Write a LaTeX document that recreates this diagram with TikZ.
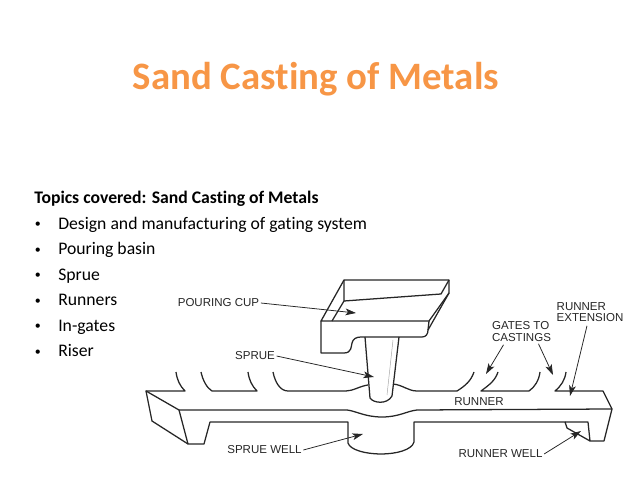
\documentclass[tikz,border=0pt]{standalone}
\usepackage{fontspec}
\setmainfont[Ligatures=NoCommon]{Carlito}
\newfontfamily\labelfont{Liberation Sans}
\usetikzlibrary{arrows.meta}
\definecolor{titleorange}{HTML}{F79646}
\definecolor{inkgray}{HTML}{262626}

\begin{document}
\begin{tikzpicture}[
    x=0.025cm, y=-0.025cm,
    >={Stealth[length=7.5pt, width=4.8pt, inset=1.8pt]},
    part/.style={draw=inkgray, line width=0.9pt, line join=round},
    thin part/.style={draw=gray!70, line width=0.35pt},
    tag/.style={font=\fontsize{8.2}{7.9}\selectfont\labelfont, text=inkgray,
                inner sep=1pt, align=left},
    arrowline/.style={->, draw=inkgray, line width=0.55pt},
    topic/.style={font=\fontsize{12.57}{14}\selectfont, text=black,
                  inner sep=0pt, anchor=base west}
  ]
  \useasboundingbox (0, 0) rectangle (638, 478);

  % Title
  \node[font=\fontsize{27.6}{30}\selectfont\bfseries, text=titleorange] (title)
    at (316, 79) {Sand Casting of Metals};

  % Topic list
  \node[topic, font=\fontsize{12.57}{14}\selectfont\bfseries] (topics) at (34, 204)
    {Topics covered: Sand Casting of Metals};
  \foreach \i/\y/\t in {
    1/229.5/Design and manufacturing of gating system,
    2/255/Pouring basin,
    3/280.5/Sprue,
    4/306/Runners,
    5/331.5/In-gates,
    6/357/Riser} {
    \node[topic, font=\fontsize{8.5}{10}\selectfont] (dot\i) at (34.5, \y-1.5) {\textbullet};
    \node[topic] (item\i) at (58, \y) {\t};
  }

  % Pouring cup
  \draw[part] (344, 280) -- (449, 280) -- (449, 293) -- (429, 321) -- (321, 321) -- cycle;
  \draw[part] (344, 280) -- (344, 301) -- (441, 294) -- (449, 280);
  \draw[part] (344, 301) -- (332, 321);
  \draw[part] (321, 321) -- (321, 353) -- (344, 353)
    .. controls (352, 353) and (351, 346) .. (352, 343)
    .. controls (353, 339) and (356, 337) .. (361, 337)
    -- (422, 337) .. controls (426, 337) and (428, 334) .. (428, 330) -- (429, 321);
  \draw[part] (428, 330) -- (449, 293);

  % Sprue
  \draw[part] (365, 337) -- (370, 398)
    .. controls (373, 403) and (387, 405) .. (392, 396) -- (399, 337);
  \draw[thin part] (393, 340) -- (387, 395);

  % Runner, top edge with the gate stubs
  \draw[part] (176, 372) .. controls (177, 380) and (180, 386) .. (185, 391) -- (146, 391)
    -- (152, 421) -- (188, 444) -- (204, 444) -- (210, 422) -- (348, 422) -- (348, 443)
    .. controls (350, 450) and (366, 454) .. (381, 454)
    .. controls (396, 454) and (412, 450) .. (414, 442)
    -- (414, 422) -- (565, 422) -- (567, 428) -- (590, 441) -- (604, 441)
    -- (612, 409) -- (603, 391) -- (555, 391)
    .. controls (561, 386) and (565, 380) .. (566, 372);
  \draw[part] (146, 391) -- (179, 410) -- (188, 444);
  \draw[part] (201, 372) .. controls (203, 381) and (207, 388) .. (212, 391) -- (257, 391)
    .. controls (252, 386) and (249, 380) .. (248, 372);
  \draw[part] (273, 372) .. controls (275, 382) and (280, 391) .. (288, 391) -- (346, 391)
    .. controls (353, 391) and (360, 386) .. (368, 385);
  \draw[part] (393, 384) .. controls (403, 385) and (408, 391) .. (417, 391) -- (457, 391)
    .. controls (465, 386) and (471, 381) .. (474, 372);
  \draw[part] (498, 372) .. controls (495, 381) and (489, 385) .. (481, 391) -- (529, 391)
    .. controls (535, 387) and (539, 380) .. (540, 372);
  \draw[part] (179, 410) -- (347, 410)
    .. controls (356, 411) and (365, 417) .. (382, 417)
    .. controls (399, 417) and (407, 411) .. (417, 410) -- (612, 409);
  \draw[part] (565, 422) -- (588, 422) -- (590, 441);

  % Labels
  \node[tag] (cuplabel) at (218.5, 303) {POURING CUP};
  \node[tag] (spruelabel) at (255, 356) {SPRUE};
  \node[tag] (welllabel) at (264.5, 450) {SPRUE WELL};
  \node[tag] (runnerlabel) at (479, 402) {RUNNER};
  \node[tag] (rwelllabel) at (500.5, 454) {RUNNER WELL};
  \node[tag] (gateslabel) at (521.5, 331.5) {GATES TO\\CASTINGS};
  \node[tag] (extlabel) at (590, 312.5) {RUNNER\\EXTENSION};

  % Arrow tips
  \coordinate (cuptip) at (356, 313);
  \coordinate (spruetip) at (374, 377);
  \coordinate (welltip) at (363, 434);
  \coordinate (rwelltip) at (581, 431);
  \coordinate (gatetipa) at (486, 374);
  \coordinate (gatetipb) at (553, 375);
  \coordinate (exttip) at (570, 396);

  \draw[arrowline] (cuplabel.east) -- (cuptip);
  \draw[arrowline] (spruelabel.east) -- (spruetip);
  \draw[arrowline] (welllabel.east) -- (welltip);
  \draw[arrowline] (rwelllabel.east) -- (rwelltip);
  \draw[arrowline] (gateslabel.south) ++(-18, 2) -- (gatetipa);
  \draw[arrowline] (gateslabel.south) ++(17, 1) -- (gatetipb);
  \draw[arrowline] (extlabel.south) ++(-3, 2) -- (exttip);
\end{tikzpicture}
\end{document}
